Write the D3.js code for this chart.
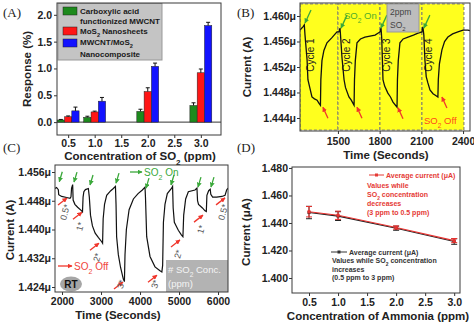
<!DOCTYPE html>
<html>
<head>
<meta charset="utf-8">
<script src="https://cdn.jsdelivr.net/npm/d3@7"></script>
<style>
  html, body { margin: 0; padding: 0; background: #fff; }
  svg { display: block; }
</style>
</head>
<body>
<svg id="fig" width="474" height="324"></svg>
<script>
// ---------- (A) sensor response vs SO2 concentration ----------
const concA = [0.5, 1.0, 2.0, 3.0];
const respCOOH = [0.04, 0.09, 0.20, 0.31];
const respMoS2 = [0.10, 0.19, 0.57, 0.92];
const respComposite = [0.21, 0.39, 1.04, 1.80];
const errCOOH = [0.01, 0.02, 0.04, 0.05];
const errMoS2 = [0.015, 0.015, 0.07, 0.07];
const errComposite = [0.07, 0.07, 0.06, 0.06];
const legendA = [["Carboxylic acid", "functionized MWCNT"], ["MoS_{2} Nanosheets"], ["MWCNT/MoS_{2}", "Nanocomposite"]];
const ticksAx = [0.5, 1.0, 1.5, 2.0, 2.5, 3.0];
const ticksAy = [0.0, 0.5, 1.0, 1.5, 2.0];

// ---------- (B) four cycles at 2 ppm ----------
const cycle1B = [[1227,1.4578],[1248,1.4583],[1258,1.4586],[1263,1.4570],[1278,1.4531],[1284,1.4500],[1297,1.4488],[1313,1.4473],[1331,1.4470],[1350,1.4468],[1364,1.4463],[1374,1.4460],[1377,1.4500],[1385,1.4530],[1399,1.4546],[1421,1.4558],[1457,1.4566],[1493,1.4575]];
const cycle2B = [[1507,1.4575],[1515,1.4581],[1520,1.4565],[1529,1.4535],[1544,1.4500],[1554,1.4488],[1579,1.4473],[1596,1.4468],[1616,1.4460],[1619,1.4500],[1625,1.4530],[1637,1.4558],[1662,1.4564],[1694,1.4567],[1767,1.4570],[1802,1.4575]];
const cycle3B = [[1810,1.4581],[1815,1.4565],[1824,1.4500],[1836,1.4490],[1859,1.4479],[1878,1.4473],[1896,1.4465],[1925,1.4457],[1928,1.4500],[1934,1.4530],[1946,1.4558],[1969,1.4564],[2004,1.4567],[2043,1.4570],[2076,1.4573],[2104,1.4575]];
const cycle4B = [[2111,1.4583],[2118,1.4570],[2126,1.4530],[2135,1.4505],[2147,1.4495],[2162,1.4484],[2184,1.4478],[2198,1.4476],[2219,1.4473],[2222,1.4500],[2230,1.4525],[2248,1.4547],[2267,1.4560],[2291,1.4567],[2325,1.4572],[2363,1.4575],[2400,1.4578],[2435,1.4578],[2449,1.4577]];
const cycleStartB = [1227, 1500, 1802, 2104];
const cycleEndB = [1500, 1802, 2104, 2406];
const cycleLabelT = [1328, 1587, 1874, 2176];
const onTipB = [[1263,1.4589],[1522,1.4581],[1809,1.4581],[2118,1.4581]];
const offTipB = [[1392,1.4457],[1637,1.4457],[1932,1.4456],[2248,1.4473]];
const ticksBx = [1500, 1800, 2100, 2400];
const ticksBy = [1.444, 1.448, 1.452, 1.456, 1.460];

// ---------- (C) stepwise concentration run at room temperature ----------
const currentC = [[1820,1.4514],[1860,1.4517],[1905,1.4511],[1915,1.4497],[1990,1.4492],[2120,1.4489],[2205,1.4487],[2230,1.4491],[2245,1.4515],[2273,1.4525],
  [2285,1.4482],[2330,1.4470],[2400,1.4462],[2504,1.4452],[2525,1.4449],[2540,1.4490],[2560,1.4505],[2600,1.4511],[2675,1.4514],
  [2700,1.4490],[2730,1.4440],[2780,1.4410],[2850,1.4390],[2930,1.4378],[3017,1.4366],[3040,1.4362],
  [3055,1.4430],[3090,1.4470],[3145,1.4495],[3250,1.4508],[3316,1.4514],[3370,1.4520],
  [3385,1.4470],[3400,1.4380],[3444,1.4330],[3500,1.4295],[3572,1.4262],[3600,1.4255],
  [3615,1.4330],[3650,1.4400],[3720,1.4455],[3830,1.4485],[3950,1.4500],[4060,1.4510],[4128,1.4518],
  [4140,1.4490],[4171,1.4380],[4256,1.4325],[4384,1.4296],[4512,1.4285],[4560,1.4282],
  [4580,1.4300],[4600,1.4420],[4640,1.4470],[4700,1.4500],[4811,1.4515],[4835,1.4520],
  [4850,1.4460],[4880,1.4420],[4982,1.4398],[5060,1.4385],[5100,1.4380],
  [5120,1.4440],[5170,1.4485],[5239,1.4505],[5410,1.4510],[5460,1.4515],
  [5475,1.4480],[5500,1.4470],[5600,1.4460],[5666,1.4452],[5700,1.4450],
  [5715,1.4495],[5760,1.4508],[5800,1.4512],
  [5815,1.4498],[5862,1.4490],[5965,1.4490],[6100,1.4492],[6180,1.4495],[6221,1.4510],[6256,1.4515]];
const dipLabelsC = ["0.5*", "1*", "2*", "3*", "3*", "2*", "1*", "0.5*"];
const onTipC = [[1930,1.4533],[2307,1.4532],[2718,1.4524],[3384,1.4529],[4153,1.4515],[4794,1.4524],[5486,1.4518],[5819,1.4518]];
const offTipC = [[2128,1.44875],[2512,1.4448],[2948,1.4362],[3563,1.4254],[4435,1.4273],[5025,1.4371],[5615,1.4440],[6180,1.4488]];
const ticksCx = [2000, 3000, 4000, 5000, 6000];
const ticksCy = [1.424, 1.432, 1.440, 1.448, 1.456];

// ---------- (D) average current vs concentration ----------
const concD = [0.5, 1.0, 2.0, 3.0];
const currDecrease = [1.4482, 1.4456, 1.4367, 1.4272];
const errDecrease = [0.0038, 0.0030, 0.0012, 0.0015];
const currIncrease = [1.4476, 1.4450, 1.4362, 1.4265];
const errIncrease = [0.0045, 0.0032, 0.0015, 0.0020];
const ticksDx = [0.5, 1.0, 1.5, 2.0, 2.5, 3.0];
const ticksDy = [1.400, 1.420, 1.440, 1.460, 1.480];

// ---------- helpers ----------
const SANS = "'Liberation Sans', Arial, Helvetica, sans-serif";
const SERIF = "'Liberation Serif', 'Times New Roman', serif";
const svg = d3.select("#fig");

// text with _{..} parts drawn as subscripts
function rich(sel, s) {
  s.split(/_\{([^}]*)\}/).forEach((p, i) => {
    if (!p) return;
    const ts = sel.append("tspan").text(p);
    if (i % 2 === 1) ts.attr("baseline-shift", "sub").attr("font-size", "70%");
  });
  return sel;
}
function label(g, x, y, s, o = {}) {
  const t = g.append("text").attr("x", x).attr("y", y)
    .attr("font-family", o.family || SANS)
    .attr("font-size", o.size || 11)
    .attr("font-weight", o.weight || "bold")
    .attr("fill", o.fill || "#222")
    .attr("text-anchor", o.anchor || "start");
  if (o.rotate != null) t.attr("transform", `rotate(${o.rotate},${x},${y})`);
  return rich(t, s);
}
function axes(g, x, y, o) {
  const ax = g.append("g").attr("transform", `translate(0,${y.range()[0]})`)
    .call(d3.axisBottom(x).tickValues(o.xt).tickSize(3).tickPadding(o.xpad).tickFormat(o.xf));
  const ay = g.append("g").attr("transform", `translate(${x.range()[0]},0)`)
    .call(d3.axisLeft(y).tickValues(o.yt).tickSize(3).tickPadding(o.ypad).tickFormat(o.yf));
  [ax, ay].forEach(a => {
    a.select(".domain").remove();
    a.selectAll("line").attr("stroke", "#333");
    a.selectAll("text").attr("font-family", SANS).attr("font-weight", "bold")
      .attr("font-size", 10.5).attr("fill", "#222");
  });
  g.append("rect").attr("x", x.range()[0]).attr("y", y.range()[1])
    .attr("width", x.range()[1] - x.range()[0]).attr("height", y.range()[0] - y.range()[1])
    .attr("fill", "none").attr("stroke", "#3a3a3a").attr("stroke-width", 1);
}
function clip(g, x, y, id) {
  svg.select("defs").append("clipPath").attr("id", id).append("rect")
    .attr("x", x.range()[0]).attr("y", y.range()[1])
    .attr("width", x.range()[1] - x.range()[0]).attr("height", y.range()[0] - y.range()[1]);
  return g.append("g").attr("clip-path", `url(#${id})`);
}

const defs = svg.append("defs");
const GREEN_ARROW = "#3aa83a", RED_ARROW = "#f0362c";
[["arrG", GREEN_ARROW], ["arrR", RED_ARROW]].forEach(([id, c]) => {
  defs.append("marker").attr("id", id).attr("viewBox", "0 0 10 10")
    .attr("refX", 9).attr("refY", 5).attr("markerWidth", 5).attr("markerHeight", 5)
    .attr("markerUnits", "userSpaceOnUse").attr("orient", "auto")
    .append("path").attr("d", "M0,0 L10,5 L0,10 z").attr("fill", c);
});
function arrow(g, x1, y1, x2, y2, id, c) {
  g.append("line").attr("x1", x1).attr("y1", y1).attr("x2", x2).attr("y2", y2)
    .attr("stroke", c).attr("stroke-width", 1.3).attr("marker-end", `url(#${id})`);
}

// ================= (A) =================
{
  const g = svg.append("g");
  const x = d3.scaleLinear().domain([0.29, 3.38]).range([57, 221]);
  const y = d3.scaleLinear().domain([-0.24, 2.22]).range([135, 3]);
  const bw = 7.3;
  const colors = ["#1d8a1d", "#ff1616", "#1212ff"];
  const series = [respCOOH, respMoS2, respComposite];
  const errs = [errCOOH, errMoS2, errComposite];

  g.append("line").attr("x1", x.range()[0]).attr("x2", x.range()[1])
    .attr("y1", y(0)).attr("y2", y(0)).attr("stroke", "#333");

  series.forEach((vals, s) => {
    const rows = concA.map((c, i) => ({ c, v: vals[i], e: errs[s][i] }));
    const bx = d => x(d.c) + (s - 1.5) * bw;
    g.append("g").selectAll("rect").data(rows).join("rect")
      .attr("x", bx).attr("y", d => y(d.v)).attr("width", bw)
      .attr("height", d => y(0) - y(d.v))
      .attr("fill", colors[s]).attr("stroke", "#222").attr("stroke-width", 0.5);
    const eb = g.append("g").selectAll("g").data(rows).join("g");
    eb.append("line").attr("x1", d => bx(d) + bw / 2).attr("x2", d => bx(d) + bw / 2)
      .attr("y1", d => y(d.v)).attr("y2", d => y(d.v + d.e)).attr("stroke", "#111");
    eb.append("line").attr("x1", d => bx(d) + bw / 2 - 2).attr("x2", d => bx(d) + bw / 2 + 2)
      .attr("y1", d => y(d.v + d.e)).attr("y2", d => y(d.v + d.e)).attr("stroke", "#111");
  });

  // legend
  const lg = g.append("g");
  lg.append("rect").attr("x", 58).attr("y", 3.5).attr("width", 104).attr("height", 56.5)
    .attr("fill", "#c4c4c4").attr("stroke", "#999");
  const swY = [7, 27, 39];
  const txY = [[14, 24], [34], [45, 57]];
  legendA.forEach((lines, i) => {
    lg.append("rect").attr("x", 63).attr("y", swY[i]).attr("width", 14).attr("height", 8)
      .attr("fill", colors[i]).attr("stroke", "#222").attr("stroke-width", 0.5);
    lines.forEach((s, j) => label(lg, 80, txY[i][j], s, { size: 8, fill: "#1a1a1a" }));
  });

  axes(g, x, y, { xt: ticksAx, yt: ticksAy, xf: d3.format(".1f"), yf: d3.format(".1f"), xpad: 2, ypad: 2 });
  label(g, 31, 69, "Response (%)", { size: 11.5, anchor: "middle", rotate: -90 });
  label(g, 140, 160, "Concentration of SO_{2} (ppm)", { size: 11.5, anchor: "middle" });
  label(g, 3, 17, "(A)", { family: SERIF, weight: "normal", size: 13 });
}

// ================= (B) =================
{
  const g = svg.append("g");
  const x = d3.scaleLinear().domain([1227, 2450]).range([300, 470]);
  const y = d3.scaleLinear().domain([1.44196, 1.46204]).range([131, 3]);
  const inner = clip(g, x, y, "clipB");

  inner.selectAll("rect.cyc").data(cycleStartB.map((s, i) => [s, cycleEndB[i]])).join("rect")
    .attr("class", "cyc")
    .attr("x", d => x(d[0])).attr("width", d => x(d[1]) - x(d[0]))
    .attr("y", y.range()[1] + 1).attr("height", y.range()[0] - y.range()[1] - 2)
    .attr("fill", "#ffff1e").attr("stroke", "#8b8b6a").attr("stroke-width", 1.2)
    .attr("stroke-dasharray", "3,2");

  cycleLabelT.forEach((t, i) =>
    label(inner, x(t), 55, `Cycle ${i + 1}`, { size: 10, weight: "normal", fill: "#222", anchor: "middle", rotate: -90 }));

  const line = d3.line().x(d => x(d[0])).y(d => y(d[1]));
  inner.append("path").datum([...cycle1B, ...cycle2B, ...cycle3B, ...cycle4B])
    .attr("d", line).attr("fill", "none").attr("stroke", "#111").attr("stroke-width", 1.3);

  onTipB.forEach(([t, v]) => arrow(g, x(t) + 6, y(v) - 13, x(t), y(v), "arrG", GREEN_ARROW));
  offTipB.forEach(([t, v]) => arrow(g, x(t) + 5, y(v) + 11, x(t), y(v), "arrR", RED_ARROW));

  label(g, 344, 19, "SO_{2} On", { size: 9.5, weight: "normal", fill: "#4fae2a" });
  label(g, 424, 124, "SO_{2} Off", { size: 9.5, weight: "normal", fill: "#ff4a1a" });
  g.append("rect").attr("x", 387).attr("y", 4).attr("width", 32).attr("height", 28)
    .attr("fill", "#bdbdbd").attr("stroke", "#999");
  label(g, 390, 15, "2ppm", { size: 8.5, weight: "normal", fill: "#444" });
  label(g, 390, 28, "SO_{2}", { size: 8.5, weight: "normal", fill: "#444" });

  axes(g, x, y, { xt: ticksBx, yt: ticksBy, xf: d3.format("d"), yf: d => d3.format(".3f")(d) + "μ", xpad: 4, ypad: 1 });
  label(g, 251, 67, "Current (A)", { size: 11.5, anchor: "middle", rotate: -90 });
  label(g, 386, 159, "Time (Seconds)", { size: 11.5, anchor: "middle" });
  label(g, 237, 17, "(B)", { family: SERIF, weight: "normal", size: 13 });
}

// ================= (C) =================
{
  const g = svg.append("g");
  const x = d3.scaleLinear().domain([1820, 6256]).range([55, 228]);
  const y = d3.scaleLinear().domain([1.42261, 1.45795]).range([292, 165]);
  const inner = clip(g, x, y, "clipC");

  const line = d3.line().x(d => x(d[0])).y(d => y(d[1]));
  inner.append("path").datum(currentC).attr("d", line)
    .attr("fill", "none").attr("stroke", "#111").attr("stroke-width", 1.2);

  onTipC.forEach(([t, v]) => arrow(g, x(t) + 3, y(v) - 10, x(t), y(v), "arrG", GREEN_ARROW));
  offTipC.forEach(([t, v], i) => {
    arrow(g, x(t) - 9, y(v) + 7, x(t), y(v), "arrR", RED_ARROW);
    const ly = Math.min(y(v) + 15, 285);
    label(g, x(t) + 1, ly, dipLabelsC[i], { size: 9, weight: "normal", fill: "#555", anchor: "middle", rotate: -75 });
  });

  // gas on/off key
  arrow(g, 130, 172, 142, 172, "arrG", GREEN_ARROW);
  label(g, 144, 176, "SO_{2} On", { size: 10, weight: "normal", fill: "#3aa83a" });
  arrow(g, 58, 266, 72, 266, "arrR", RED_ARROW);
  label(g, 74, 270, "SO_{2} Off", { size: 10, weight: "normal", fill: "#f0453c" });

  g.append("ellipse").attr("cx", 71).attr("cy", 284).attr("rx", 11).attr("ry", 7.5).attr("fill", "#a6a6a6");
  label(g, 71, 288, "RT", { size: 10, anchor: "middle", fill: "#111" });

  g.append("rect").attr("x", 166).attr("y", 260).attr("width", 62).attr("height", 32).attr("fill", "#b3b3b3");
  label(g, 168, 273, "# SO_{2} Conc.", { size: 9.5, weight: "normal", fill: "#f4f4f4" });
  label(g, 168, 287, "(ppm)", { size: 9.5, weight: "normal", fill: "#f4f4f4" });

  axes(g, x, y, { xt: ticksCx, yt: ticksCy, xf: d3.format("d"), yf: d => d3.format(".3f")(d) + "μ", xpad: 3, ypad: 1 });
  label(g, 14, 230, "Current (A)", { size: 11.5, anchor: "middle", rotate: -90 });
  label(g, 118, 319, "Time (Seconds)", { size: 11.5, anchor: "middle" });
  label(g, 3, 152, "(C)", { family: SERIF, weight: "normal", size: 13 });
}

// ================= (D) =================
{
  const g = svg.append("g");
  const x = d3.scaleLinear().domain([0.207, 3.10]).range([292, 460]);
  const y = d3.scaleLinear().domain([1.3891, 1.4807]).range([293, 167]);
  const line = d3.line().x(d => x(d.c)).y(d => y(d.v));
  const sets = [
    { v: currIncrease, e: errIncrease, c: "#222222" },
    { v: currDecrease, e: errDecrease, c: "#e8312f" }
  ];
  sets.forEach(s => {
    const rows = concD.map((c, i) => ({ c, v: s.v[i], e: s.e[i] }));
    g.append("path").datum(rows).attr("d", line).attr("fill", "none").attr("stroke", s.c).attr("stroke-width", 1.1);
    const eb = g.append("g").selectAll("g").data(rows).join("g").attr("stroke", s.c).attr("stroke-width", 1);
    eb.append("line").attr("x1", d => x(d.c)).attr("x2", d => x(d.c)).attr("y1", d => y(d.v - d.e)).attr("y2", d => y(d.v + d.e));
    eb.append("line").attr("x1", d => x(d.c) - 3).attr("x2", d => x(d.c) + 3).attr("y1", d => y(d.v - d.e)).attr("y2", d => y(d.v - d.e));
    eb.append("line").attr("x1", d => x(d.c) - 3).attr("x2", d => x(d.c) + 3).attr("y1", d => y(d.v + d.e)).attr("y2", d => y(d.v + d.e));
    g.append("g").selectAll("rect").data(rows).join("rect")
      .attr("x", d => x(d.c) - 1.5).attr("y", d => y(d.v) - 1.5).attr("width", 3).attr("height", 3).attr("fill", s.c);
  });

  // legends
  const RED = "#e53a35", DARK = "#333";
  g.append("line").attr("x1", 369).attr("x2", 384).attr("y1", 175).attr("y2", 175).attr("stroke", RED);
  g.append("rect").attr("x", 375).attr("y", 173.5).attr("width", 3).attr("height", 3).attr("fill", RED);
  label(g, 386, 177.5, "Average current (μA)", { size: 7, fill: RED });
  ["Values while", "SO_{2} concentration", "decreases", "(3 ppm to 0.5 ppm)"].forEach((s, i) =>
    label(g, 367, [188, 196.5, 206, 215][i], s, { size: 7, fill: RED }));

  g.append("line").attr("x1", 331).attr("x2", 347).attr("y1", 252).attr("y2", 252).attr("stroke", DARK);
  g.append("rect").attr("x", 337.5).attr("y", 250.5).attr("width", 3).attr("height", 3).attr("fill", DARK);
  label(g, 349, 254.5, "Average current (μA)", { size: 7, fill: DARK });
  ["Values while SO_{2} concentration", "increases", "(0.5 ppm to 3 ppm)"].forEach((s, i) =>
    label(g, 332, [263, 271.5, 280][i], s, { size: 7, fill: DARK }));

  axes(g, x, y, { xt: ticksDx, yt: ticksDy, xf: d3.format(".1f"), yf: d3.format(".3f"), xpad: 3, ypad: 1 });
  label(g, 250, 232, "Current (μA)", { size: 11.5, anchor: "middle", rotate: -90 });
  label(g, 378, 320, "Concentration of Ammonia (ppm)", { size: 11.5, anchor: "middle" });
  label(g, 237, 152, "(D)", { family: SERIF, weight: "normal", size: 13 });
}
</script>
</body>
</html>
